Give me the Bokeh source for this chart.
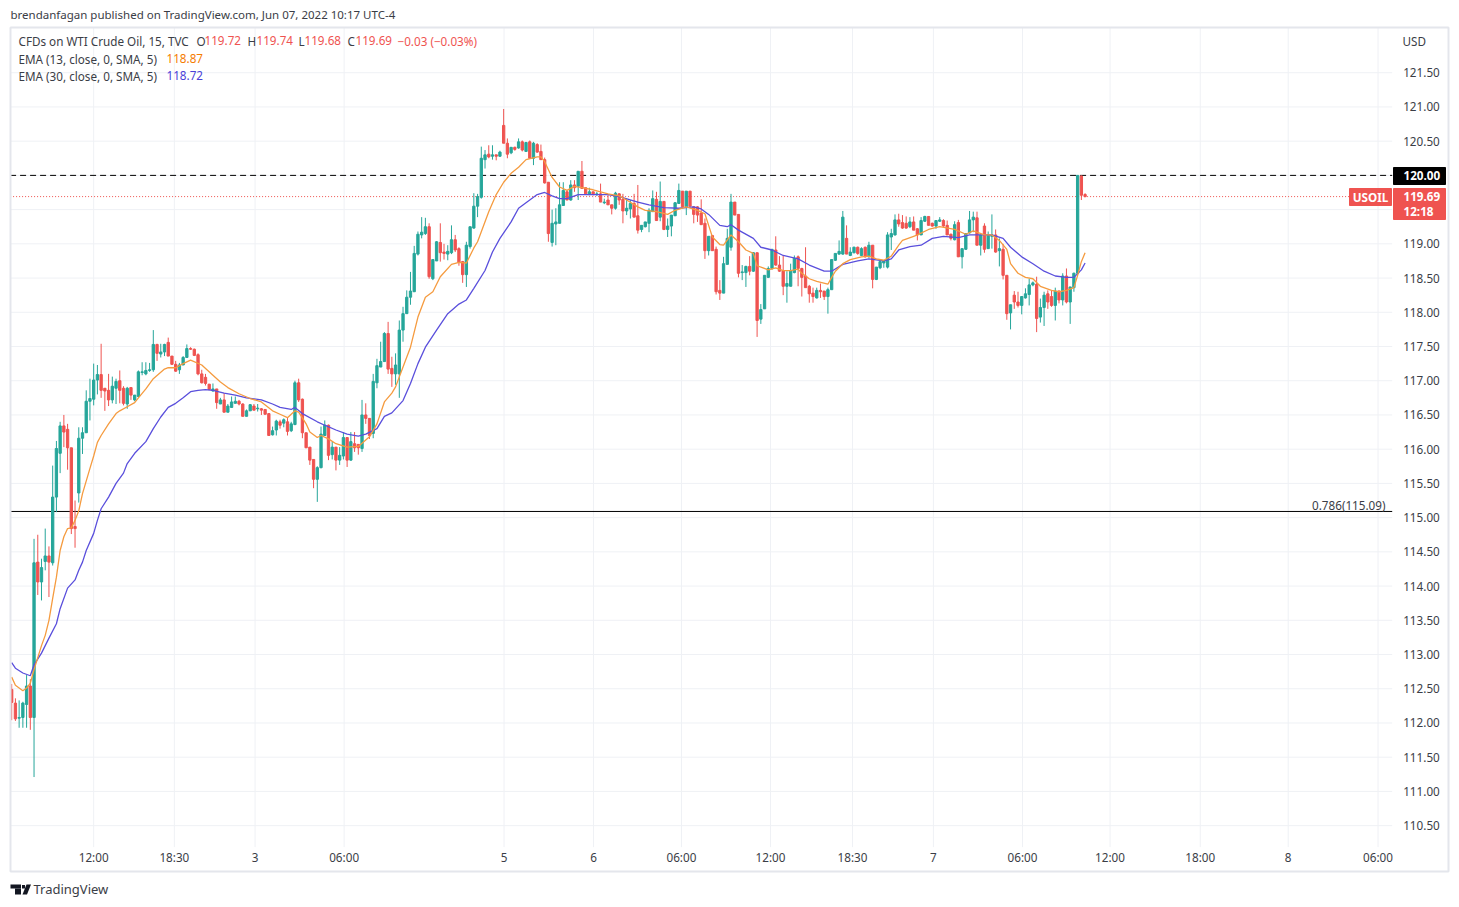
from bokeh.embed import file_html
from bokeh.resources import INLINE
from bokeh.plotting import figure
from bokeh.models import (ColumnDataSource, Range1d, LinearAxis, FixedTicker, Label,
                          BoxAnnotation, PolyAnnotation)

opens = [
112.49,112.29,112.07,112.08,112.27,112.54,112.08,114.35,114.06,114.36,
114.44,114.34,115.30,115.94,116.34,116.29,116.02,114.87,115.36,116.16,
116.24,116.70,116.73,117.01,117.09,116.89,116.86,116.72,116.89,117.00,
116.89,116.66,116.90,116.72,116.77,117.12,117.10,117.15,117.16,117.53,
117.39,117.42,117.56,117.36,117.24,117.16,117.23,117.34,117.47,117.46,
117.38,117.10,117.05,116.95,116.85,116.88,116.66,116.72,116.54,116.61,
116.67,116.70,116.66,116.48,116.56,116.63,116.59,116.59,116.58,116.52,
116.21,116.28,116.40,116.38,116.40,116.27,116.36,116.97,116.73,116.24,
116.03,115.85,115.56,115.73,116.20,116.35,115.92,116.03,115.84,115.90,
116.17,115.84,116.08,116.07,116.01,116.50,116.45,116.23,116.97,117.20,
117.28,117.69,117.18,117.10,117.10,117.74,117.98,118.22,118.30,118.85,
119.13,119.15,119.25,118.49,118.75,119.02,118.88,118.85,118.87,119.06,
118.93,118.74,118.55,118.96,119.23,119.55,119.68,120.23,120.31,120.28,
120.30,120.28,120.73,120.47,120.33,120.41,120.40,120.49,120.35,120.49,
120.25,120.45,120.35,120.23,119.90,119.02,119.29,119.30,119.56,119.76,
119.64,119.86,119.84,120.06,119.82,119.72,119.76,119.72,119.73,119.60,
119.64,119.57,119.52,119.73,119.65,119.48,119.51,119.59,119.41,119.21,
119.25,119.30,119.47,119.65,119.39,119.62,119.21,119.26,119.41,119.59,
119.77,119.54,119.77,119.54,119.54,119.45,119.30,118.90,119.12,118.92,
118.32,118.28,118.70,118.95,119.61,119.43,118.58,118.58,118.67,118.60,
118.87,117.90,118.05,118.51,118.64,118.91,118.69,118.61,118.38,118.38,
118.58,118.81,118.64,118.53,118.38,118.28,118.21,118.32,118.31,118.23,
118.33,118.76,118.85,118.85,119.08,118.83,118.87,118.95,118.83,118.95,
118.81,118.98,118.48,118.65,118.72,118.66,119.10,119.13,119.35,119.31,
119.30,119.25,119.32,119.22,119.13,119.33,119.40,119.30,119.26,119.33,
119.34,119.27,119.14,119.06,119.31,118.81,118.92,119.16,119.35,119.38,
118.98,119.26,118.93,119.11,119.13,118.90,118.92,118.54,117.99,118.25,
118.15,118.10,118.21,118.26,118.40,118.41,117.93,118.07,118.27,118.23,
118.10,118.31,118.18,118.53,118.15,118.36,118.57,119.99,119.72]

highs = [
112.57,112.36,112.33,112.31,112.70,112.64,114.69,114.75,114.40,114.84,
114.58,115.76,116.12,116.40,116.50,116.37,116.02,115.25,116.32,116.32,
116.86,117.03,117.25,117.23,117.54,116.89,117.10,117.06,117.03,117.15,
116.92,116.91,116.90,116.79,117.15,117.27,117.27,117.26,117.74,117.54,
117.54,117.54,117.63,117.36,117.29,117.26,117.36,117.53,117.49,117.47,
117.40,117.16,117.10,116.95,116.96,116.88,116.75,116.82,116.66,116.77,
116.77,116.72,116.67,116.58,116.66,116.66,116.66,116.60,116.58,116.52,
116.33,116.43,116.43,116.45,116.47,116.40,117.00,117.03,116.74,116.24,
116.03,115.85,115.75,116.33,116.42,116.36,116.11,116.03,116.03,116.25,
116.17,116.25,116.25,116.07,116.72,116.67,116.45,117.10,117.32,117.57,
117.71,117.86,117.35,117.40,117.88,118.08,118.32,118.59,118.97,119.18,
119.39,119.38,119.30,118.77,119.04,119.30,119.00,118.98,119.27,119.13,
118.95,118.75,119.03,119.25,119.74,119.73,120.42,120.37,120.44,120.44,
120.30,120.36,120.97,120.54,120.41,120.42,120.54,120.51,120.49,120.51,
120.49,120.47,120.45,120.26,119.90,119.50,119.52,119.90,119.90,119.78,
119.93,119.93,120.06,120.21,119.82,119.82,119.76,119.76,119.88,119.66,
119.73,119.57,119.76,119.74,119.73,119.66,119.64,119.73,119.86,119.27,
119.32,119.52,119.78,119.76,119.91,119.62,119.37,119.42,119.61,119.88,
119.77,119.77,119.77,119.55,119.55,119.65,119.37,119.11,119.13,118.96,
118.47,118.81,119.22,119.73,119.61,119.43,118.69,118.68,118.82,118.88,
118.87,118.12,118.54,118.67,118.92,119.11,118.82,118.83,118.60,118.71,
118.83,118.83,118.65,118.95,118.40,118.36,118.36,118.42,118.31,118.36,
118.77,118.86,119.05,119.48,119.27,118.95,118.96,118.96,118.95,118.96,
119.03,118.98,118.66,118.75,118.76,119.17,119.22,119.43,119.44,119.42,
119.40,119.39,119.40,119.23,119.39,119.41,119.40,119.31,119.34,119.39,
119.36,119.34,119.15,119.33,119.35,118.93,119.15,119.48,119.47,119.47,
119.13,119.30,119.18,119.43,119.21,119.08,119.00,118.54,118.11,118.31,
118.30,118.23,118.35,118.49,118.45,118.52,118.20,118.30,118.32,118.32,
118.36,118.32,118.57,118.64,118.37,118.58,120.00,120.00,119.74]

lows = [
112.04,112.03,111.93,111.93,111.93,111.90,111.21,113.87,113.79,114.23,
113.84,114.30,115.08,115.65,116.03,115.70,114.76,114.56,115.22,115.93,
116.24,116.42,116.64,116.80,116.75,116.56,116.63,116.67,116.66,116.67,
116.64,116.59,116.72,116.70,116.77,117.08,117.08,117.13,117.13,117.29,
117.34,117.36,117.36,117.23,117.13,117.10,117.23,117.34,117.45,117.36,
117.08,116.96,116.93,116.87,116.84,116.59,116.66,116.54,116.54,116.61,
116.67,116.64,116.48,116.48,116.56,116.57,116.55,116.50,116.51,116.20,
116.20,116.20,116.30,116.32,116.20,116.25,116.35,116.69,116.16,116.02,
115.77,115.43,115.23,115.72,116.20,115.84,115.85,115.69,115.77,115.85,
115.74,115.83,115.96,115.92,115.96,116.37,116.15,116.16,116.89,117.20,
117.28,117.10,116.91,116.94,116.75,117.57,117.98,118.11,118.30,118.83,
119.08,119.13,118.49,118.47,118.75,118.74,118.77,118.76,118.85,118.88,
118.68,118.43,118.37,118.93,119.22,119.39,119.66,120.10,120.25,120.23,
120.22,120.27,120.47,120.25,120.31,120.36,120.39,120.35,120.35,120.25,
120.15,120.33,120.23,119.88,119.03,118.96,118.98,119.30,119.56,119.64,
119.63,119.76,119.64,119.81,119.73,119.71,119.71,119.70,119.61,119.58,
119.57,119.43,119.50,119.57,119.30,119.42,119.37,119.39,119.15,119.17,
119.24,119.17,119.47,119.34,119.33,119.20,119.10,119.11,119.41,119.59,
119.54,119.42,119.55,119.30,119.32,119.28,118.78,118.83,118.90,118.26,
118.18,118.28,118.70,118.90,119.42,118.51,118.47,118.37,118.54,118.59,
117.64,117.83,118.05,118.50,118.62,118.68,118.59,118.25,118.14,118.38,
118.57,118.38,118.23,118.36,118.14,118.14,118.20,118.21,118.18,117.98,
118.33,118.75,118.84,118.84,118.85,118.82,118.86,118.84,118.82,118.80,
118.80,118.35,118.47,118.63,118.65,118.64,118.91,119.12,119.25,119.22,
119.22,119.23,119.20,119.05,119.13,119.32,119.27,119.25,119.22,119.32,
119.25,119.13,119.05,119.05,118.81,118.64,118.91,119.15,119.17,118.98,
118.83,118.87,118.93,118.93,118.87,118.67,118.48,117.89,117.75,118.05,
118.07,117.97,118.20,118.10,118.38,117.71,117.85,117.80,118.05,118.08,
117.88,118.13,118.10,118.13,117.83,118.30,118.55,119.64,119.68]

closes = [
112.30,112.06,112.08,112.29,112.54,112.08,114.34,114.06,114.27,114.44,
114.35,115.30,116.01,116.34,116.25,116.02,114.84,114.84,116.16,116.24,
116.70,116.74,117.01,117.09,116.86,116.85,116.72,116.92,116.99,116.86,
116.67,116.89,116.79,116.79,117.13,117.13,117.15,117.16,117.53,117.40,
117.42,117.53,117.36,117.24,117.14,117.23,117.34,117.47,117.46,117.37,
117.10,116.97,116.96,116.87,116.88,116.68,116.72,116.54,116.63,116.69,
116.70,116.66,116.48,116.56,116.65,116.57,116.60,116.57,116.51,116.20,
116.27,116.41,116.35,116.43,116.26,116.37,116.97,116.72,116.24,116.02,
115.84,115.56,115.73,116.22,116.35,115.91,116.03,115.84,115.91,116.17,
115.84,116.11,116.02,116.02,116.50,116.45,116.20,116.99,117.22,117.28,
117.69,117.17,117.10,117.23,117.74,117.98,118.22,118.31,118.86,119.14,
119.17,119.25,118.52,118.77,119.03,118.87,118.86,118.89,119.06,118.91,
118.73,118.55,118.98,119.25,119.55,119.69,120.25,120.30,120.27,120.30,
120.28,120.34,120.47,120.31,120.41,120.38,120.49,120.37,120.48,120.25,
120.47,120.34,120.23,119.89,119.15,119.30,119.32,119.57,119.78,119.64,
119.86,119.82,120.06,119.81,119.73,119.76,119.72,119.73,119.61,119.61,
119.57,119.52,119.74,119.64,119.48,119.52,119.59,119.39,119.20,119.27,
119.32,119.49,119.66,119.34,119.62,119.21,119.26,119.42,119.60,119.78,
119.54,119.77,119.55,119.43,119.42,119.28,118.90,119.11,118.90,118.30,
118.28,118.71,119.08,119.61,119.42,118.57,118.59,118.67,118.60,118.87,
117.88,118.04,118.54,118.64,118.92,118.69,118.60,118.38,118.42,118.60,
118.79,118.64,118.51,118.36,118.27,118.23,118.32,118.30,118.23,118.33,
118.77,118.86,118.89,119.39,118.85,118.88,118.95,118.86,118.93,118.81,
118.98,118.48,118.66,118.74,118.75,119.13,119.15,119.35,119.29,119.23,
119.23,119.32,119.20,119.13,119.34,119.40,119.27,119.26,119.34,119.35,
119.26,119.13,119.08,119.28,118.81,118.93,119.15,119.35,119.39,118.98,
119.13,118.92,119.13,119.13,118.88,118.93,118.54,117.98,118.11,118.15,
118.10,118.23,118.27,118.40,118.43,117.91,118.07,118.25,118.15,118.10,
118.31,118.18,118.53,118.15,118.37,118.57,120.00,119.71,119.69]

ema13_bar = [0,1,3,4,5,6,8,9,10,11,12,13,14,15,16,17,18,19,21,22,23,24,26,28,29,31,33,34,36,38,41,42,44,46,48,51,
54,56,58,61,64,67,70,72,74,76,77,79,80,82,83,85,87,90,93,96,98,100,102,103,105,107,109,111,113,115,118,120,122,124,125,128,130,132,134,136,138,141,142,143,145,147,149,
151,153,156,160,163,165,168,170,173,176,178,181,184,186,187,188,190,191,193,195,197,199,200,203,205,207,209,211,212,214,216,219,220,221,223,225,228,230,232,234,236,238,239,242,243,246,249,253,256,258,261,263,265,267,268,270,272,274,276,279,281,283,285,286,287,288]
ema13 = [112.67,112.55,112.47,112.51,112.58,112.78,113.13,113.28,113.50,113.82,114.13,114.52,114.72,114.84,114.85,114.96,115.10,115.35,115.72,115.90,116.10,116.20,116.37,116.52,116.56,116.62,116.68,116.75,116.88,117.03,117.17,117.19,117.19,117.25,117.30,117.23,
117.08,116.98,116.90,116.81,116.74,116.69,116.56,116.51,116.46,116.56,116.54,116.37,116.25,116.17,116.20,116.15,116.08,116.03,116.04,116.18,116.37,116.69,116.82,116.91,117.20,117.49,117.93,118.22,118.30,118.52,118.70,118.73,118.72,118.94,119.03,119.47,119.72,119.90,120.03,120.12,120.23,120.27,120.27,120.20,119.97,119.83,119.78,
119.84,119.82,119.79,119.73,119.70,119.64,119.54,119.49,119.47,119.43,119.49,119.54,119.49,119.44,119.27,119.10,118.99,118.98,119.13,119.03,118.91,118.86,118.68,118.62,118.65,118.61,118.61,118.63,118.57,118.49,118.45,118.41,118.51,118.60,118.71,118.77,118.81,118.82,118.78,118.76,118.82,118.98,119.05,119.11,119.13,119.21,119.25,119.21,119.14,119.19,119.13,119.13,119.05,118.92,118.71,118.57,118.51,118.49,118.38,118.32,118.30,118.32,118.36,118.54,118.74,118.87]

ema30_bar = [0,1,3,5,6,8,10,12,13,15,17,18,19,20,22,23,24,26,28,30,31,33,36,38,40,42,44,46,48,50,
52,54,57,60,63,67,70,72,75,76,78,82,84,87,90,93,95,98,100,102,105,107,109,111,114,117,120,122,124,127,129,131,134,136,139,141,143,145,147,149,
152,156,160,163,168,171,175,179,183,185,187,190,192,193,195,199,201,204,207,211,214,218,220,223,227,230,234,236,238,241,244,247,250,254,257,261,263,266,268,271,274,277,280,283,285,287,288]
ema30 = [112.88,112.80,112.73,112.69,112.85,113.02,113.24,113.45,113.67,113.97,114.09,114.23,114.35,114.52,114.77,114.96,115.13,115.30,115.50,115.65,115.79,115.94,116.11,116.30,116.47,116.61,116.67,116.75,116.84,116.86,
116.87,116.86,116.82,116.79,116.75,116.72,116.66,116.61,116.58,116.61,116.52,116.40,116.35,116.28,116.22,116.19,116.22,116.30,116.48,116.53,116.71,116.96,117.25,117.49,117.74,117.98,118.12,118.18,118.35,118.61,118.88,119.08,119.32,119.52,119.64,119.72,119.75,119.70,119.66,119.66,
119.72,119.72,119.72,119.69,119.61,119.57,119.53,119.52,119.54,119.51,119.43,119.27,119.25,119.28,119.20,119.08,118.95,118.91,118.83,118.78,118.69,118.60,118.60,118.70,118.75,118.78,118.75,118.78,118.91,118.96,118.98,119.08,119.11,119.09,119.13,119.13,119.13,119.08,118.95,118.81,118.71,118.60,118.53,118.51,118.51,118.62,118.72]

price_ticks = [110.5,111.0,111.5,112.0,112.5,113.0,113.5,114.0,114.5,115.0,115.5,116.0,116.5,117.0,117.5,118.0,118.5,119.0,119.5,120.0,120.5,121.0,121.5]
hidden_price_ticks = [119.5, 120.0]
time_tick_bars = [22, 43.65, 65.3, 89.2, 132.1, 156.1, 179.7, 203.6, 225.6, 247.3, 271.2, 294.7, 318.9, 342.5, 366.6]
time_tick_labels = ["12:00","18:30","3","06:00","5","6","06:00","12:00","18:30","7","06:00","12:00","18:00","8","06:00"]
resistance = 120.00
last_price = 119.69
fib_level = 115.09

assert len(opens) == len(highs) == len(lows) == len(closes)
assert len(ema13) == len(ema13_bar) and len(ema30) == len(ema30_bar)

GREEN, RED = "#26a69a", "#ef5350"
FONT = "Noto Sans"
TXT = "#3a3d46"
GRID = "#eff1f5"

# the pane of candles inside the full picture, in bar and price units
pane_left, pane_right = -0.43, 370.4
pane_bottom, pane_top = 110.186, 122.165

bars = list(range(len(opens)))
src = ColumnDataSource(dict(
    x=bars, o=opens, h=highs, l=lows, c=closes,
    top=[max(a, b) for a, b in zip(opens, closes)],
    bot=[min(a, b) for a, b in zip(opens, closes)],
    col=[GREEN if b >= a else RED for a, b in zip(opens, closes)]))

p = figure(width=1451, height=899, output_backend="svg", toolbar_location=None,
           x_range=Range1d(-3.0, 386.31), y_range=Range1d(109.421, 122.555),
           x_axis_location="below", y_axis_location=None,
           min_border_left=0, min_border_right=0, min_border_top=0, min_border_bottom=0,
           background_fill_color="white", border_fill_color="white", outline_line_color=None)

p.xgrid.visible = False
p.ygrid.visible = False

# grid lines limited to the pane
p.segment(x0=time_tick_bars, x1=time_tick_bars, y0=[pane_bottom] * len(time_tick_bars), y1=[pane_top] * len(time_tick_bars),
          line_color=GRID, line_width=1)
p.segment(x0=[pane_left] * len(price_ticks), x1=[pane_right] * len(price_ticks), y0=price_ticks, y1=price_ticks,
          line_color=GRID, line_width=1)

xa = p.xaxis[0]
xa.fixed_location = pane_bottom
xa.ticker = FixedTicker(ticks=time_tick_bars)
xa.major_label_overrides = dict(zip(time_tick_bars, time_tick_labels))
xa.axis_line_color = None
xa.major_tick_line_color = None
xa.minor_tick_line_color = None
xa.major_tick_out = 0
xa.major_tick_in = 0
xa.major_label_standoff = 2
xa.major_label_text_font = FONT
xa.major_label_text_font_size = "11.7px"
xa.major_label_text_color = TXT

ya = LinearAxis(ticker=FixedTicker(ticks=[t for t in price_ticks if t not in hidden_price_ticks]), fixed_location=pane_right)
ya.major_label_overrides = {t: f"{t:.2f}" for t in price_ticks}
ya.axis_line_color = None
ya.major_tick_line_color = None
ya.minor_tick_line_color = None
ya.major_tick_out = 0
ya.major_tick_in = 0
ya.major_label_standoff = 11
ya.major_label_text_font = FONT
ya.major_label_text_font_size = "11.7px"
ya.major_label_text_color = TXT
p.add_layout(ya, "right")

# horizontal levels
p.line([pane_left, pane_right], [fib_level, fib_level], line_color="#000000", line_width=1)
p.line([pane_left, pane_right], [resistance, resistance], line_color="#000000", line_width=1, line_dash=[6, 4])
p.line([pane_left, pane_right], [last_price, last_price], line_color=RED, line_width=1, line_dash=[1, 2])

p.segment("x", "h", "x", "l", source=src, line_color="col", line_width=1)
p.vbar(x="x", top="top", bottom="bot", width=0.62, source=src, fill_color="col", line_color="col", line_width=1)
p.line(ema30_bar, ema30, line_color="#5a4fdc", line_width=1.3)
p.line(ema13_bar, ema13, line_color="#f59b3f", line_width=1.3)


def txt(x, y, s, color=TXT, size="11.7px", align="left", style="normal"):
    p.add_layout(Label(x=x, y=y - 1, x_units="canvas", y_units="canvas", text=s, text_color=color,
                       text_font=FONT, text_font_size=size, text_align=align, text_baseline="middle",
                       text_font_style=style))


def box(x0, y0, x1, y1, fill, line=None, alpha=1.0, lw=1):
    p.add_layout(BoxAnnotation(left=x0, right=x1, top=y0, bottom=y1,
                               left_units="canvas", right_units="canvas", top_units="canvas", bottom_units="canvas",
                               fill_color=fill, fill_alpha=alpha, line_color=line, line_width=lw, line_alpha=1.0))


# outer frame of the published picture
box(10, 27, 1448, 871, None, "#e4e6ec", 0.0, 2)

txt(10, 15, "brendanfagan published on TradingView.com, Jun 07, 2022 10:17 UTC-4", size="11.5px")
txt(18, 41, "CFDs on WTI Crude Oil, 15, TVC")
for x, s, c in [(196, "O", TXT), (204, "119.72", RED), (247, "H", TXT), (256, "119.74", RED),
                (298, "L", TXT), (304, "119.68", RED), (347, "C", TXT), (355, "119.69", RED),
                (397, "\u22120.03 (\u22120.03%)", RED)]:
    txt(x, 41, s, c)
txt(18, 59, "EMA (13, close, 0, SMA, 5)")
txt(166, 59, "118.87", "#f57c00")
txt(18, 76, "EMA (30, close, 0, SMA, 5)")
txt(166, 76, "118.72", "#4a3fd8")
txt(1402, 41, "USD")
txt(1385, 505, "0.786(115.09)", align="right")

box(1393, 167, 1445, 184, "#000000", "#000000")
txt(1403, 175.5, "120.00", "#ffffff", style="bold")
box(1349, 188, 1391, 205, RED, RED)
txt(1370, 197, "USOIL", "#ffffff", align="center", style="bold")
box(1393, 188, 1445, 219, RED, RED)
txt(1403, 197, "119.69", "#ffffff", style="bold")
txt(1403, 211, "12:18", "#ffffff", style="bold")

# TradingView logo and name
box(10, 884, 20.5, 888, "#131722", "#131722", lw=0)
box(14.5, 888, 20.5, 894, "#131722", "#131722", lw=0)
box(21.5, 884.5, 24.5, 888, "#131722", "#131722", lw=0)
p.add_layout(PolyAnnotation(xs=[26, 30.5, 26.5, 22], ys=[884, 884, 894, 894],
                            xs_units="canvas", ys_units="canvas", fill_color="#131722", fill_alpha=1.0, line_color=None))
txt(33, 889, "TradingView", "#3a3d46", size="13px")

open("out.html", "w").write(file_html(p, INLINE))
